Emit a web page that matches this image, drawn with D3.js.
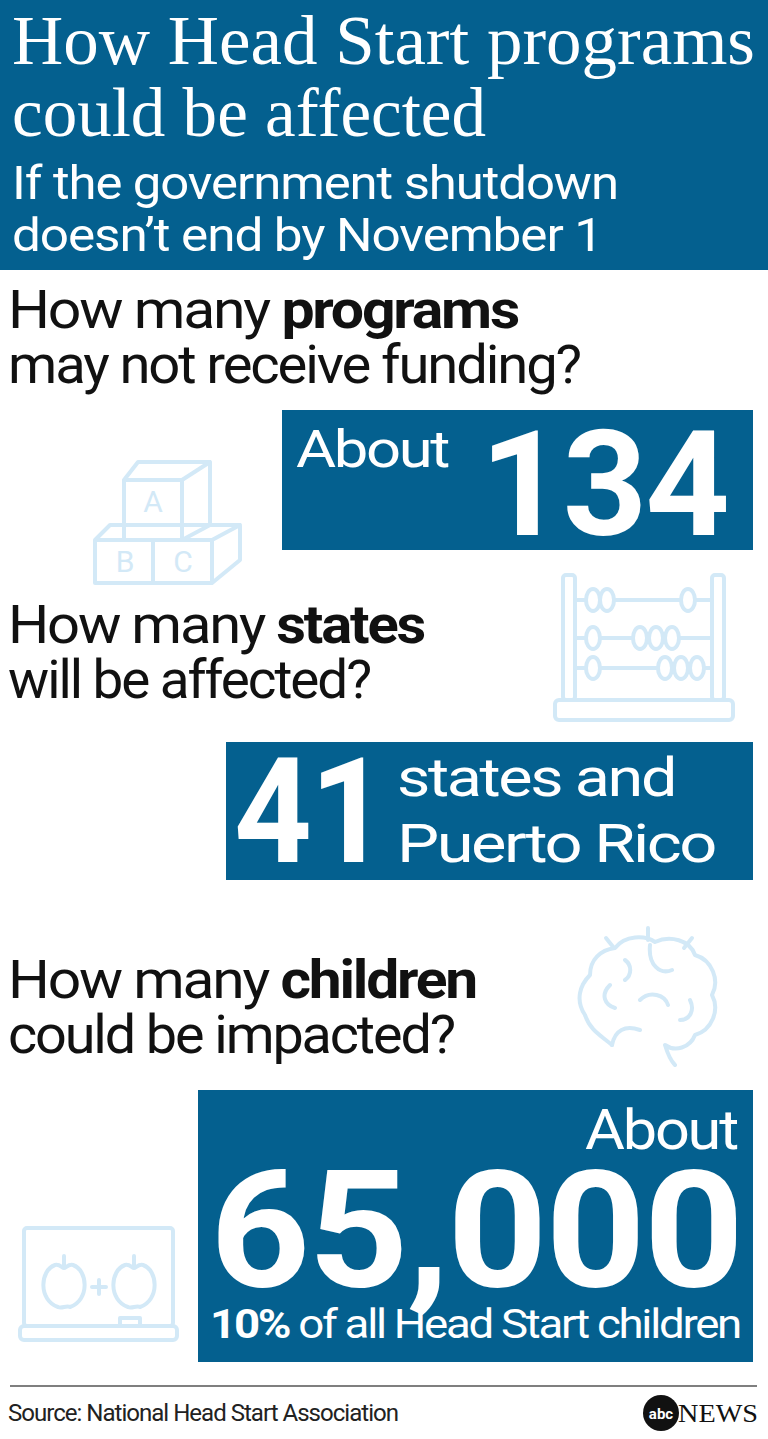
<!DOCTYPE html>
<html><head><meta charset="utf-8">
<script src="https://cdn.jsdelivr.net/npm/d3@7"></script>
<style>body{margin:0;background:#fff}svg{display:block}</style>
</head><body>
<script>
const titleLines = ["How Head Start programs", "could be affected"];
const subtitleLines = ["If the government shutdown", "doesn\u2019t end by November 1"];
const questions = [
  {pre:"How many ", bold:"programs", line2:"may not receive funding?"},
  {pre:"How many ", bold:"states", line2:"will be affected?"},
  {pre:"How many ", bold:"children", line2:"could be impacted?"}
];
const values = ["134", "41", "65,000"];
const valueNotes = ["About", "states and|Puerto Rico", "About"];
const footnote = {bold:"10%", rest:" of all Head Start children"};
const source = "Source: National Head Start Association";

const W = 768, H = 1439, BLUE = "#04608f", ICON = "#d3e9f7";
const sans = "Roboto,'Liberation Sans',Arial,sans-serif";
const svg = d3.select("body").append("svg").attr("width", W).attr("height", H);

function txt(x, y, s, size, opts={}) {
  const t = svg.append("text").attr("x", x).attr("y", y).text(s)
    .attr("font-size", size).attr("font-family", opts.font || sans)
    .attr("font-weight", opts.weight || 400).attr("fill", opts.fill || "#111")
    .attr("text-anchor", opts.anchor || "start")
    .attr("letter-spacing", opts.ls != null ? opts.ls : -2);
  if (opts.len) t.attr("textLength", opts.len).attr("lengthAdjust", "spacingAndGlyphs");
  return t;
}
function rich(x, y, parts, size, fill, totalLen) {
  const t = svg.append("text").attr("x", x).attr("y", y).attr("font-size", size)
    .attr("font-family", sans).attr("fill", fill).attr("letter-spacing", -2);
  parts.forEach(p => t.append("tspan").attr("font-weight", p[1]).text(p[0]));
  if (totalLen) t.attr("textLength", totalLen).attr("lengthAdjust", "spacingAndGlyphs");
}

// header
svg.append("rect").attr("x",0).attr("y",0).attr("width",W).attr("height",270).attr("fill",BLUE);
const serif = "'Liberation Serif','DejaVu Serif',serif";
txt(12, 64, titleLines[0], 70, {font:serif, fill:"#fff", len:743, ls:0});
txt(12, 136, titleLines[1], 70, {font:serif, fill:"#fff", len:474, ls:0});
txt(12, 199, subtitleLines[0], 47, {fill:"#fff", len:606, ls:-1});
txt(12, 251, subtitleLines[1], 47, {fill:"#fff", len:590, ls:-1});

// questions
const qY = [[328,383],[643,698],[998,1053]];
const qLen = [[510,572],[416,362],[468,446]];
questions.forEach((q,i) => {
  rich(8, qY[i][0], [[q.pre,400],[q.bold,700]], 53, "#111", qLen[i][0]);
  txt(8, qY[i][1], q.line2, 53, {len:qLen[i][1]});
});

// boxes
const boxes = [[282,410,471,140],[226,742,527,138],[198,1090,555,272]];
boxes.forEach(b => svg.append("rect").attr("x",b[0]).attr("y",b[1]).attr("width",b[2]).attr("height",b[3]).attr("fill",BLUE));

txt(296, 467, valueNotes[0], 52, {fill:"#fff", len:152});
txt(480, 535, values[0], 146, {fill:"#fff", weight:700, len:248});

txt(234, 862, values[1], 146, {fill:"#fff", weight:700, len:152});
const n2 = valueNotes[1].split("|");
txt(397, 796, n2[0], 54, {fill:"#fff", len:278});
txt(397, 862, n2[1], 54, {fill:"#fff", len:318});

txt(737, 1149, valueNotes[2], 56, {fill:"#fff", anchor:"end", len:152});
txt(210, 1286, values[2], 164, {fill:"#fff", weight:700, len:532});
rich(210, 1338, [[footnote.bold,700],[footnote.rest,400]], 40, "#fff", 530);

// footer
svg.append("line").attr("x1",10).attr("x2",757).attr("y1",1386).attr("y2",1386).attr("stroke","#555").attr("stroke-width",1.5);
txt(8, 1421, source, 24, {len:390, fill:"#222", ls:-1});
svg.append("circle").attr("cx",661).attr("cy",1413).attr("r",18).attr("fill","#111");
txt(661, 1419, "abc", 15, {fill:"#fff", anchor:"middle", weight:700, ls:0});
txt(678, 1422, "NEWS", 26, {font:serif, fill:"#111", len:80, ls:0});

// icons
const ic = svg.append("g").attr("fill","none").attr("stroke",ICON).attr("stroke-width",4).attr("stroke-linejoin","round").attr("stroke-linecap","round");
ic.append("path").attr("d","M124,480 L124,540 M124,480 L182,480 L182,540 M124,480 L138,462 L210,462 L210,525 L182,540 M182,480 L210,462");
ic.append("path").attr("d","M95,540 L95,583 L212,583 L212,540 Z M95,540 L110,525 L240,525 L240,560 L212,583 M212,540 L240,525 M153,540 L153,583");
txt(153, 512, "A", 30, {fill:ICON, anchor:"middle", ls:0});
txt(125, 572, "B", 30, {fill:ICON, anchor:"middle", ls:0});
txt(183, 572, "C", 30, {fill:ICON, anchor:"middle", ls:0});
ic.append("rect").attr("x",563).attr("y",575).attr("width",12).attr("height",125).attr("rx",3);
ic.append("rect").attr("x",712).attr("y",575).attr("width",12).attr("height",125).attr("rx",3);
ic.append("rect").attr("x",555).attr("y",700).attr("width",178).attr("height",20).attr("rx",4);
[[600,[593,607,688]],[638,[593,640,656,672]],[668,[593,665,681,697]]].forEach(r=>{
  ic.append("line").attr("x1",575).attr("x2",712).attr("y1",r[0]).attr("y2",r[0]);
  r[1].forEach(cx=>ic.append("ellipse").attr("cx",cx).attr("cy",r[0]).attr("rx",7).attr("ry",11).attr("fill","#fff"));
});
ic.append("path").attr("d","M612,1045 C600,1035 590,1030 585,1015 C575,1000 580,985 590,975 C590,960 600,950 615,948 C625,935 645,935 655,942 C670,935 690,940 695,955 C712,960 720,980 712,995 C720,1010 712,1030 695,1035 C690,1048 675,1052 665,1045 C668,1055 672,1062 675,1065");
ic.append("path").attr("d","M612,1045 C615,1030 625,1025 640,1030 M650,945 C648,965 660,975 672,970 M610,985 C600,995 605,1005 615,1008 M640,1000 C650,990 665,995 668,1005 M690,1000 C695,1010 690,1020 680,1020 M625,960 C632,965 632,975 625,980");
ic.append("path").attr("d","M648,928 L648,940 M606,938 L614,948 M692,938 L684,948");
ic.append("rect").attr("x",24).attr("y",1228).attr("width",149).attr("height",98).attr("rx",3);
ic.append("rect").attr("x",20).attr("y",1326).attr("width",157).attr("height",14).attr("rx",4);
ic.append("path").attr("d","M120,1326 L120,1318 L140,1318 L140,1326");
ic.append("path").attr("d","M55,1265 C40,1270 38,1300 58,1307 C62,1309 66,1305 70,1307 C90,1300 88,1270 73,1265 C68,1264 66,1268 64,1268 C62,1268 60,1264 55,1265 Z M64,1268 L64,1256");
ic.append("path").attr("d","M125,1265 C110,1270 108,1300 128,1307 C132,1309 136,1305 140,1307 C160,1300 158,1270 143,1265 C138,1264 136,1268 134,1268 C132,1268 130,1264 125,1265 Z M134,1268 L134,1256");
ic.append("path").attr("d","M92,1287 L106,1287 M99,1280 L99,1294");
</script>
</body></html>
